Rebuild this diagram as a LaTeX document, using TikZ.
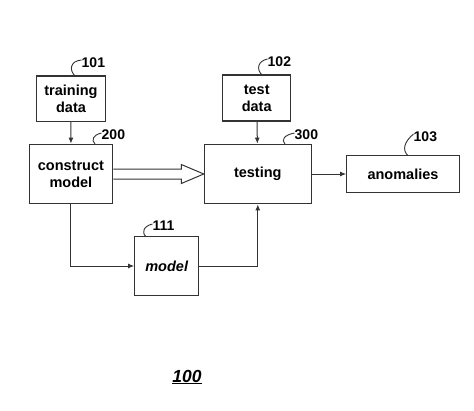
\documentclass[tikz,border=0pt]{standalone}
\usepackage{fontspec}
\setmainfont{Liberation Sans}
\usetikzlibrary{arrows.meta,calc}
\tikzset{
  box/.style={draw=black!80, line width=1.1pt, align=center, inner sep=0pt,
    font=\fontsize{14.5}{16.7}\selectfont\bfseries},
  conn/.style={draw=black!80, line width=1pt, -{Latex[length=6pt,width=5pt]}},
  lbl/.style={font=\fontsize{14}{16}\selectfont\bfseries, inner sep=0pt},
  hook/.style={draw=black!80, line width=0.9pt}
}
\begin{document}
\begin{tikzpicture}[x=1pt,y=-1pt]
\useasboundingbox (0,0) rectangle (474,410);
% boxes
\node[box, minimum width=68.6pt, minimum height=45.7pt] (train) at (71,98.8) {training\\data};
\node[box, minimum width=83.7pt, minimum height=59.7pt] (construct) at (70.9,174) {construct\\model};
\node[box, minimum width=68pt, minimum height=46pt] (testdata) at (256.7,98) {test\\data};
\node[box, minimum width=107pt, minimum height=59.7pt] (testing) at (257.8,174) {testing};
\node[box, minimum width=112.6pt, minimum height=36.6pt] (anom) at (403,174) {anomalies};
\node[box, minimum width=64pt, minimum height=58.6pt] (model) at (166.7,266) {\itshape model};
% labels
\node[lbl, anchor=west] (l101) at (81.5,63) {101};
\node[lbl, anchor=west] (l200) at (101.5,135) {200};
\node[lbl, anchor=west] (l102) at (267.5,62) {102};
\node[lbl, anchor=west] (l300) at (294.5,135) {300};
\node[lbl, anchor=west] (l103) at (413.5,137) {103};
\node[lbl, anchor=west] (l111) at (152.5,226) {111};
\node[font=\fontsize{17.5}{20}\selectfont\bfseries\itshape, inner sep=0pt] (l100) at (187,377) {\underline{100}};
% hooks
\coordinate (h101) at (75,76);
\draw[hook] (h101) .. controls (69,70) and (70,61) .. ($(l101.west)+(0,-3)$);
\coordinate (h200) at (95,144);
\draw[hook] (h200) .. controls (91,140) and (93,135) .. ($(l200.west)+(0,-2)$);
\coordinate (h102) at (262,75);
\draw[hook] (h102) .. controls (256,69) and (258,61) .. ($(l102.west)+(0,-3)$);
\coordinate (h300) at (285,144);
\draw[hook] (h300) .. controls (281,140) and (284,135) .. ($(l300.west)+(0,-2)$);
\coordinate (h103) at (408,155.7);
\draw[hook] (h103) .. controls (402,150) and (404,142) .. ($(l103.west)+(0,-3)$);
\coordinate (h111) at (146,236.7);
\draw[hook] (h111) .. controls (141,232) and (144,226) .. ($(l111.west)+(0,-2)$);
% connectors
\draw[conn] (train) -- (construct);
\draw[conn] (testdata) -- (testing);
\draw[conn] (testing) -- (anom);
\draw[conn] (construct.south) |- (model.west);
\draw[conn] (model.east) -| (testing.south);
% hollow arrow
\draw[draw=black!80, line width=1pt, line join=miter]
  ($(construct.east)+(0,-5)$) -- ++(68,0) -- ++(0,-4.5) -- (testing.west)
  -- ($(construct.east)+(68,9.5)$) -- ++(0,-4.5) -- ($(construct.east)+(0,5)$);
\end{tikzpicture}
\end{document}
